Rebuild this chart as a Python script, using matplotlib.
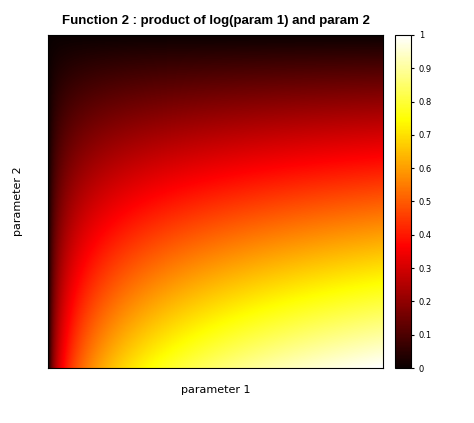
import numpy as np
import matplotlib.pyplot as plt

# Parameter grids (the image is the function evaluated on them)
param1 = np.linspace(1, 100, 400)
param2 = np.linspace(0, 1, 400)
cbar_ticks = [0, 0.1, 0.2, 0.3, 0.4, 0.5, 0.6, 0.7, 0.8, 0.9, 1]

P1, P2 = np.meshgrid(param1, param2)
Z = np.log(P1) * P2
Z = Z / Z.max()

fig = plt.figure(figsize=(4.74, 4.23), dpi=100)
ax = fig.add_axes([48 / 474, 1 - 368 / 423, 335 / 474, 333 / 423])
cax = fig.add_axes([395 / 474, 1 - 368 / 423, 16 / 474, 333 / 423])

im = ax.imshow(Z, cmap="hot", origin="upper", aspect="auto", vmin=0, vmax=1)
ax.set_xticks([])
ax.set_yticks([])
ax.set_title("Function 2 : product of log(param 1) and param 2",
             family="Liberation Sans", fontsize=9.5, fontweight="bold", pad=8)
ax.set_xlabel("parameter 1", fontsize=8, labelpad=12)
ax.set_ylabel("parameter 2", fontsize=8, labelpad=18)

cb = fig.colorbar(im, cax=cax, ticks=cbar_ticks)
cb.ax.set_yticklabels([f"{t:g}" for t in cbar_ticks])
cb.ax.tick_params(labelsize=6, length=2)

fig.savefig("out.png", dpi=100)
